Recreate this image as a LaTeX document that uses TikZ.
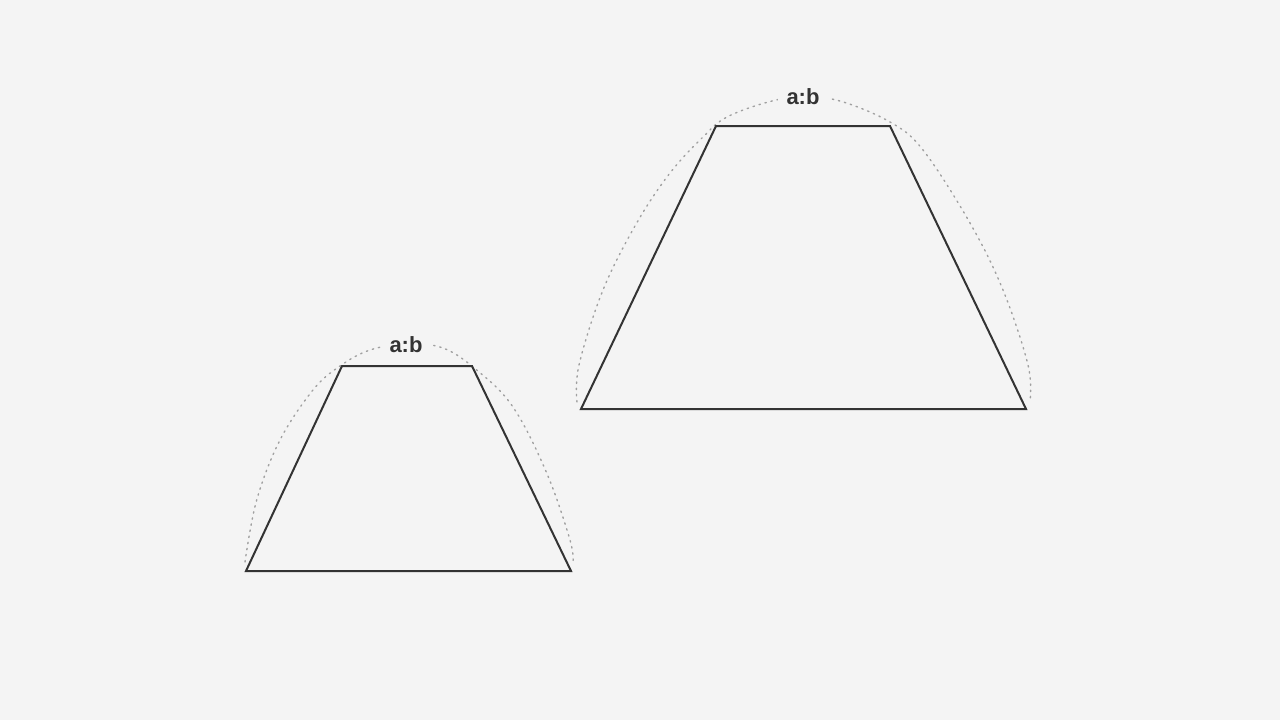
\documentclass[tikz,border=0pt]{standalone}
\usepackage{fontspec}
\setmainfont{Liberation Sans}
\definecolor{bgc}{HTML}{F4F4F4}
\definecolor{edgec}{HTML}{333333}
\definecolor{dotc}{HTML}{A0A0A0}
\begin{document}
\begin{tikzpicture}[x=1pt,y=-1pt,
  trap/.style={draw=edgec, line width=2pt, line join=miter},
  arcline/.style={draw=dotc, line width=1.4pt, dash pattern=on 1.4pt off 4.8pt, line cap=round},
  ratio/.style={fill=bgc, text=edgec, font=\bfseries\fontsize{22}{22}\selectfont, inner xsep=9pt, inner ysep=2pt}]
\fill[bgc] (0,0) rectangle (1280,720);
\useasboundingbox (0,0) rectangle (1280,720);
% small trapezoid
\coordinate (sbl) at (246,571);
\coordinate (sbr) at (571,571);
\coordinate (str) at (472,366);
\coordinate (stl) at (342,366);
\draw[arcline] plot[smooth, tension=0.6] coordinates {(245,562) (256.7,500) (280,440) (313,390) (340,366) (370,350) (406,344) (443,348) (476.7,370) (513,407) (546.7,473) (570,540) (573,563)};
\draw[trap] (sbl) -- (sbr) -- (str) -- (stl) -- cycle;
\node[ratio] (slab) at (406,345) {a:b};
% large trapezoid
\coordinate (lbl) at (581,409);
\coordinate (lbr) at (1026,409);
\coordinate (ltr) at (890,126);
\coordinate (ltl) at (716,126);
\draw[arcline] plot[smooth, tension=0.6] coordinates {(577,402) (579,365) (603,290) (636.7,223) (670,173) (703,137) (727,117) (770,101.5) (803,97) (840,101) (890,122) (923,150) (970,223) (1003,290) (1028,365) (1030,402)};
\draw[trap] (lbl) -- (lbr) -- (ltr) -- (ltl) -- cycle;
\node[ratio] (llab) at (803,97) {a:b};
\end{tikzpicture}
\end{document}
